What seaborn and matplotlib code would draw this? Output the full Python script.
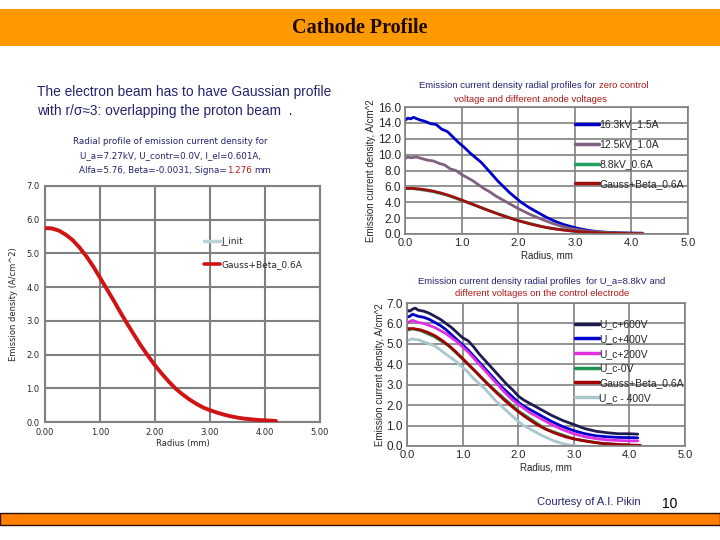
import numpy as np
import pandas as pd
import matplotlib
matplotlib.use("Agg")
import matplotlib.pyplot as plt
import seaborn as sns
from matplotlib.patches import Rectangle
from matplotlib.lines import Line2D

# Gauss+Beta fit, 0.6 A (same curve on all three panels)
gauss_r = [0.0, 0.125, 0.25, 0.375, 0.5, 0.625, 0.75, 0.875, 1.0, 1.125, 1.25,
           1.375, 1.5, 1.625, 1.75, 1.875, 2.0, 2.125, 2.25, 2.375, 2.5, 2.625,
           2.75, 2.875, 3.0, 3.125, 3.25, 3.375, 3.5, 3.625, 3.75, 3.875, 4.0,
           4.1, 4.2]
gauss_j = [5.75, 5.74, 5.68, 5.56, 5.4, 5.18, 4.92, 4.62, 4.28, 3.94, 3.6,
           3.24, 2.9, 2.57, 2.25, 1.96, 1.68, 1.43, 1.2, 0.99, 0.82, 0.67,
           0.54, 0.43, 0.35, 0.28, 0.22, 0.17, 0.13, 0.1, 0.08, 0.06, 0.05,
           0.04, 0.03]

# J_init (hidden under the fit, only the first point shows)
jinit_r = [0.0, 0.05, 0.1, 0.15]
jinit_j = [5.72, 5.76, 5.77, 5.74]

# top right: different anode voltages
r16 = [0.0, 0.05, 0.1, 0.15, 0.25, 0.35, 0.45, 0.55, 0.65, 0.75, 0.85, 0.95,
       1.05, 1.15, 1.25, 1.35, 1.45, 1.55, 1.65, 1.75, 1.85, 1.95, 2.05, 2.2,
       2.35, 2.5, 2.65, 2.8, 3.0, 3.2, 3.4, 3.6, 3.8, 4.0, 4.2]
j16 = [14.3, 14.6, 14.5, 14.7, 14.4, 14.2, 13.9, 13.8, 13.2, 12.9, 12.2, 11.5,
       10.9, 10.2, 9.6, 9.0, 8.2, 7.4, 6.6, 5.9, 5.2, 4.6, 4.0, 3.3,
       2.7, 2.1, 1.6, 1.2, 0.8, 0.5, 0.3, 0.2, 0.15, 0.12, 0.1]
r12 = [0.0, 0.05, 0.1, 0.2, 0.3, 0.4, 0.5, 0.6, 0.7, 0.8, 0.9, 1.0, 1.1, 1.2,
       1.3, 1.4, 1.5, 1.6, 1.7, 1.8, 1.9, 2.0, 2.2, 2.4, 2.6, 2.8, 3.0, 3.2,
       3.4, 3.6, 3.8, 4.0, 4.2]
j12 = [9.5, 9.7, 9.6, 9.7, 9.5, 9.3, 9.2, 8.9, 8.7, 8.2, 8.0, 7.5, 7.1, 6.7,
       6.2, 5.7, 5.3, 4.8, 4.4, 4.0, 3.6, 3.2, 2.5, 1.9, 1.35, 0.9, 0.6, 0.38,
       0.25, 0.17, 0.12, 0.09, 0.08]
r88 = [0.0, 0.1, 0.25, 0.5, 0.75, 1.0, 1.5, 2.0, 2.5, 3.0, 3.5, 4.0]
j88 = [5.7, 5.75, 5.62, 5.33, 4.88, 4.24, 2.9, 1.7, 0.8, 0.33, 0.12, 0.04]

# bottom right: U_a=8.8kV, different control voltages
rc = [0.0, 0.05, 0.1, 0.15, 0.2, 0.3, 0.4, 0.5, 0.6, 0.7, 0.8, 0.9, 1.0, 1.1,
      1.2, 1.3, 1.4, 1.5, 1.6, 1.7, 1.8, 1.9, 2.0, 2.1, 2.2, 2.4, 2.6, 2.8,
      3.0, 3.2, 3.4, 3.6, 3.8, 4.0, 4.15]
j600 = [6.65, 6.6, 6.7, 6.75, 6.65, 6.6, 6.5, 6.35, 6.2, 6.0, 5.8, 5.55, 5.3,
        5.15, 4.85, 4.5, 4.2, 3.9, 3.6, 3.3, 3.0, 2.75, 2.45, 2.25, 2.1, 1.8,
        1.5, 1.25, 1.05, 0.85, 0.72, 0.65, 0.6, 0.6, 0.58]
j400 = [6.3, 6.35, 6.45, 6.4, 6.35, 6.3, 6.2, 6.05, 5.9, 5.7, 5.45, 5.2, 4.95,
        4.7, 4.4, 4.1, 3.8, 3.5, 3.2, 2.9, 2.65, 2.4, 2.15, 1.95, 1.8, 1.5,
        1.2, 0.95, 0.75, 0.6, 0.5, 0.45, 0.42, 0.41, 0.4]
j200 = [6.0, 6.1, 6.15, 6.1, 6.05, 6.0, 5.9, 5.8, 5.65, 5.5, 5.3, 5.1, 4.85,
        4.6, 4.3, 4.0, 3.7, 3.4, 3.1, 2.8, 2.5, 2.25, 2.05, 1.85, 1.65, 1.35,
        1.05, 0.8, 0.6, 0.45, 0.36, 0.3, 0.27, 0.25, 0.25]
r0v = [0.0, 0.05, 0.1, 0.25, 0.5, 0.75, 1.0, 1.5, 2.0, 2.5, 3.0, 3.5, 4.0]
j0v = [5.65, 5.7, 5.74, 5.64, 5.34, 4.9, 4.26, 2.92, 1.72, 0.82, 0.35, 0.13, 0.05]
rm400 = [0.0, 0.05, 0.1, 0.15, 0.2, 0.3, 0.4, 0.5, 0.6, 0.7, 0.8, 0.9, 1.0,
         1.1, 1.2, 1.3, 1.4, 1.5, 1.6, 1.7, 1.8, 1.9, 2.0, 2.1, 2.2, 2.3, 2.4,
         2.5, 2.6, 2.7, 2.8, 2.9, 3.0, 3.05]
jm400 = [5.15, 5.2, 5.25, 5.2, 5.2, 5.1, 5.0, 4.9, 4.7, 4.5, 4.3, 4.1, 3.85,
         3.6, 3.3, 3.05, 2.8, 2.5, 2.2, 1.95, 1.7, 1.45, 1.2, 1.0, 0.85, 0.7,
         0.55, 0.42, 0.3, 0.2, 0.12, 0.06, 0.02, 0.0]

sns.set_style("white")
plt.rcParams['font.family'] = ['Liberation Sans', 'DejaVu Sans']

navy = '#24246e'
dred = '#b01818'
gridc = '#808080'

fig = plt.figure(figsize=(7.2, 5.4), dpi=100)

# header / footer bands
fig.patches.append(Rectangle((0, 1 - 46/540), 1, 37/540, transform=fig.transFigure,
                             facecolor='#ff9900', edgecolor='none', zorder=0))
fig.patches.append(Rectangle((0, 1 - 525/540), 1, 12/540, transform=fig.transFigure,
                             facecolor='#ff7f00', edgecolor='#301000', lw=1, zorder=0))
fig.text(0.5, 1 - 28/540, 'Cathode Profile', ha='center', va='center',
         family='Liberation Serif', fontweight='bold', fontsize=14.5, color='#1a0a00')

fig.text(37/720, 1 - 92/540, 'The electron beam has to have Gaussian profile',
         ha='left', va='center', fontsize=9.9, color=navy)
fig.text(37/720, 1 - 111/540, 'with r/\u03c3\u22483: overlapping the proton beam  .',
         ha='left', va='center', fontsize=9.9, color=navy)

# ---------- left panel ----------
ax1 = fig.add_axes([45/720, 1 - 422/540, 275/720, 236/540])
sns.lineplot(x=jinit_r, y=jinit_j, ax=ax1, color='#b8d4dc', lw=2.5, zorder=2)
sns.lineplot(x=gauss_r, y=gauss_j, ax=ax1, color='#d01414', lw=2.8, zorder=3)
ax1.set_xlim(0, 5)
ax1.set_ylim(0, 7)
ax1.set_xticks(np.arange(0, 6, 1))
ax1.set_yticks(np.arange(0, 8, 1))
ax1.set_xticklabels([f'{v:.2f}' for v in range(6)], family='DejaVu Sans', fontsize=6)
ax1.set_yticklabels([f'{v:.1f}' for v in range(8)], family='DejaVu Sans', fontsize=6)
ax1.grid(True, color=gridc, lw=1.5)
for s in ax1.spines.values():
    s.set_color(gridc)
    s.set_linewidth(1.5)
ax1.tick_params(length=0, pad=4)
ax1.set_xlabel('Radius (mm)', family='DejaVu Sans', fontsize=6, labelpad=2)
ax1.set_ylabel('Emission density (A/cm^2)', family='DejaVu Sans', fontsize=6, labelpad=6)
ax1.legend([Line2D([], [], color='#b8d4dc', lw=2.5), Line2D([], [], color='#d01414', lw=2.6)],
           ['J_init', 'Gauss+Beta_0.6A'], loc='upper left',
           bbox_to_anchor=(196/720, 1 - 229/540), bbox_transform=fig.transFigure,
           frameon=False, handlelength=1.8, handletextpad=0.1, labelspacing=1.5,
           prop={'family': 'DejaVu Sans', 'size': 6.5})

fig.text(170/720, 1 - 141/540, 'Radial profile of emission current density for',
         ha='center', va='center', family='DejaVu Sans', fontsize=6.3, color=navy)
fig.text(170/720, 1 - 156/540, 'U_a=7.27kV, U_contr=0.0V, I_el=0.601A,',
         ha='center', va='center', family='DejaVu Sans', fontsize=6.3, color=navy)
fig.text(227/720, 1 - 170/540, 'Alfa=5.76, Beta=-0.0031, Signa=',
         ha='right', va='center', family='DejaVu Sans', fontsize=6.3, color=navy)
fig.text(227/720, 1 - 170/540, '1.276',
         ha='left', va='center', family='DejaVu Sans', fontsize=6.3, color=dred)
fig.text(254/720, 1 - 170/540, 'mm',
         ha='left', va='center', family='DejaVu Sans', fontsize=6.3, color=navy)


def style_right(ax, ymax, ystep):
    ax.set_xlim(0, 5)
    ax.set_ylim(0, ymax)
    ax.set_xticks(np.arange(0, 6, 1))
    ax.set_yticks(np.arange(0, ymax + 0.1, ystep))
    ax.set_xticklabels([f'{v:.1f}' for v in range(6)], fontsize=8)
    ax.set_yticklabels([f'{v:.1f}' for v in np.arange(0, ymax + 0.1, ystep)], fontsize=8.5)
    ax.grid(True, color=gridc, lw=1.2)
    for s in ax.spines.values():
        s.set_color(gridc)
        s.set_linewidth(1.2)
    ax.tick_params(length=0, pad=3)
    ax.set_ylabel('Emission current density, A/cm^2', fontsize=7, labelpad=1)
    ax.set_xlabel('Radius, mm', fontsize=7, labelpad=2)


# ---------- top right panel ----------
ax2 = fig.add_axes([405/720, 1 - 234/540, 283/720, 127/540])
top_series = [
    (r16, j16, '#0000c8', '16.3kV_1.5A'),
    (r12, j12, '#806080', '12.5kV_1.0A'),
    (r88, j88, '#20a060', '8.8kV_0.6A'),
    (gauss_r, gauss_j, '#a01010', 'Gauss+Beta_0.6A'),
]
for rr, jj, c, lab in top_series:
    sns.lineplot(x=rr, y=jj, ax=ax2, color=c, lw=2)
style_right(ax2, 16, 2)
ax2.legend([Line2D([], [], color=c, lw=2.5) for _, _, c, _ in top_series],
           [lab for _, _, _, lab in top_series], loc='upper left',
           bbox_to_anchor=(566/720, 1 - 110/540), bbox_transform=fig.transFigure,
           frameon=False, handlelength=2.3, handletextpad=0.0, labelspacing=0.95,
           prop={'size': 7.5})
fig.text(598/720, 1 - 86/540, 'Emission current density radial profiles for ',
         ha='right', va='center', fontsize=6.8, color=navy)
fig.text(599/720, 1 - 86/540, 'zero control',
         ha='left', va='center', fontsize=6.8, color=dred)
fig.text(530/720, 1 - 99/540, 'voltage and different anode voltages',
         ha='center', va='center', fontsize=6.8, color=dred)

# ---------- bottom right panel ----------
ax3 = fig.add_axes([407/720, 1 - 446/540, 278/720, 143/540])
bot_series = [
    (rc, j600, '#1c1c50', 'U_c+600V'),
    (rc, j400, '#0000cc', 'U_c+400V'),
    (rc, j200, '#e030e0', 'U_c+200V'),
    (r0v, j0v, '#209050', 'U_c-0V'),
    (gauss_r, gauss_j, '#a00000', 'Gauss+Beta_0.6A'),
    (rm400, jm400, '#a8c8cc', 'U_c - 400V'),
]
for rr, jj, c, lab in bot_series:
    sns.lineplot(x=rr, y=jj, ax=ax3, color=c, lw=2)
style_right(ax3, 7, 1)
ax3.legend([Line2D([], [], color=c, lw=2.5) for _, _, c, _ in bot_series],
           [lab for _, _, _, lab in bot_series], loc='upper left',
           bbox_to_anchor=(566/720, 1 - 310/540), bbox_transform=fig.transFigure,
           frameon=False, handlelength=2.3, handletextpad=0.0, labelspacing=0.45,
           prop={'size': 7.5})
fig.text(542/720, 1 - 281/540, 'Emission current density radial profiles  for U_a=8.8kV and',
         ha='center', va='center', fontsize=6.8, color=navy)
fig.text(542/720, 1 - 293/540, 'different voltages on the control electrode',
         ha='center', va='center', fontsize=6.8, color=dred)

fig.text(537/720, 1 - 502/540, 'Courtesy of A.I. Pikin', ha='left', va='center',
         fontsize=8, color=navy)
fig.text(662/720, 1 - 504/540, '10', ha='left', va='center', fontsize=10, color='black')

fig.savefig('out.png', dpi=100)
